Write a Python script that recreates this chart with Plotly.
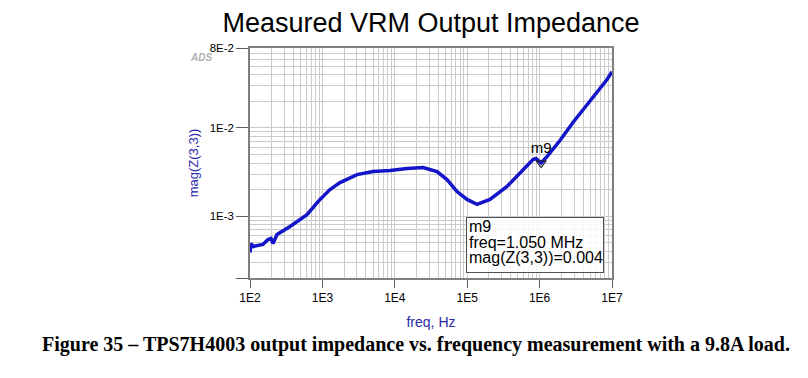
import math
import plotly.graph_objects as go

# Data (freq in Hz, |Z| in ohm)
freq = [100, 103, 110, 129, 151, 177, 195, 208, 236, 357, 612, 927, 1274, 1751,
        3006, 5000, 8590, 14750, 24550, 38300, 52600, 72300, 99400, 136500,
        206500, 354800, 590000, 811000, 892000, 1.05e6, 1.264e6, 1.91e6,
        2.89e6, 5.47e6, 8.54e6, 1.0e7]
mag = [3.88e-4, 4.91e-4, 4.54e-4, 4.67e-4, 4.79e-4, 5.45e-4, 5.6e-4, 4.9e-4,
       6.2e-4, 7.64e-4, 1.04e-3, 1.55e-3, 2.0e-3, 2.4e-3, 2.96e-3, 3.2e-3,
       3.29e-3, 3.47e-3, 3.56e-3, 3.2e-3, 2.6e-3, 1.9e-3, 1.55e-3, 1.36e-3,
       1.55e-3, 2.17e-3, 3.37e-3, 4.38e-3, 4.5e-3, 4.0e-3, 4.73e-3, 7.18e-3,
       1.15e-2, 2.26e-2, 3.52e-2, 4.32e-2]

marker_name = "m9"
marker_freq = 1.05e6
marker_mag = 0.004
readout_lines = ["m9", "freq=1.050 MHz", "mag(Z(3,3))=0.004"]

x_tickvals = [1e2, 1e3, 1e4, 1e5, 1e6, 1e7]
x_ticktext = ["1E2", "1E3", "1E4", "1E5", "1E6", "1E7"]
y_tickvals = [2e-4, 1e-3, 1e-2, 8e-2]
y_ticktext = ["", "1E-3", "1E-2", "8E-2"]

title = "Measured VRM Output Impedance"
caption = "Figure 35 \u2013 TPS7H4003 output impedance vs. frequency measurement with a 9.8A load."

SANS = "Arial, Liberation Sans"

fig = go.Figure()
fig.add_trace(go.Scatter(x=freq, y=mag, mode="lines",
                         line=dict(color="#1414c8", width=3.5),
                         hoverinfo="skip", showlegend=False))
fig.add_trace(go.Scatter(x=[marker_freq], y=[marker_mag], mode="markers+text",
                         marker=dict(symbol="triangle-down-open", size=9,
                                     color="#202020", line=dict(width=1.2)),
                         text=[marker_name], textposition="top center",
                         textfont=dict(family=SANS, size=15, color="#000000"),
                         showlegend=False, hoverinfo="skip"))

grid = "#cbcbcb"
fig.update_xaxes(type="log", range=[2, 7], tickvals=x_tickvals, ticktext=x_ticktext,
                 showgrid=True, gridcolor=grid, gridwidth=1,
                 minor=dict(dtick="D1", showgrid=True, gridcolor=grid, gridwidth=1, ticks=""),
                 showline=True, linecolor="#808080", linewidth=1.5, mirror=True,
                 ticks="outside", ticklen=8, tickcolor="#606060",
                 tickfont=dict(family=SANS, size=12, color="#000000"), zeroline=False,
                 automargin=False,
                 title=dict(text="freq, Hz", font=dict(family=SANS, size=14, color="#2a2aa8"),
                            standoff=13))
fig.update_yaxes(type="log", range=[math.log10(2e-4), math.log10(8e-2)],
                 tickvals=y_tickvals, ticktext=y_ticktext,
                 showgrid=True, gridcolor=grid, gridwidth=1,
                 minor=dict(dtick="D1", showgrid=True, gridcolor=grid, gridwidth=1, ticks=""),
                 showline=True, linecolor="#808080", linewidth=1.5, mirror=True,
                 ticks="outside", ticklen=12, tickcolor="#606060",
                 tickfont=dict(family=SANS, size=11.5, color="#000000"), zeroline=False,
                 automargin=False,
                 title=dict(text="mag(Z(3,3))", font=dict(family=SANS, size=13, color="#2a2aa8"),
                            standoff=8))

# ADS logo text
fig.add_annotation(x=0.0, y=1.0, xref="paper", yref="paper", xanchor="center", yanchor="middle",
                   xshift=-49, yshift=-9, text="<i><b>ADS</b></i>", showarrow=False,
                   font=dict(family=SANS, size=10, color="#b0b0b0"))

# marker readout box: frame + lines
box_left = math.log10(9.6e4)
box_top = math.log10(1.0e-3)
fig.add_annotation(x=box_left, y=box_top, xref="x", yref="y", xanchor="left", yanchor="top",
                   yshift=-1, text="", showarrow=False, width=136, height=54,
                   bordercolor="#505050", borderwidth=1, borderpad=0,
                   bgcolor="rgba(255,255,255,0.85)")
for i, line in enumerate(readout_lines):
    fig.add_annotation(x=box_left, y=box_top, xref="x", yref="y", xanchor="left", yanchor="middle",
                       xshift=1, yshift=-10 - 15.8 * i, text=line, showarrow=False, align="left",
                       font=dict(family=SANS, size=16, color="#000000"))

fig.update_layout(
    width=800, height=370,
    margin=dict(l=242, r=196, t=40, b=100),
    paper_bgcolor="white", plot_bgcolor="white",
    title=dict(text=title, x=0.5, xref="paper", xanchor="center", y=0.962, yanchor="middle",
               font=dict(family=SANS, size=27, color="#000000")),
)
fig.add_annotation(x=0.0, xref="paper", y=0, yref="paper", xshift=-210, yshift=-66, xanchor="left",
                   yanchor="middle", text="<b>" + caption + "</b>", showarrow=False,
                   font=dict(family="Liberation Serif, Times New Roman", size=20, color="#000000"))

fig.write_html("out.html")
